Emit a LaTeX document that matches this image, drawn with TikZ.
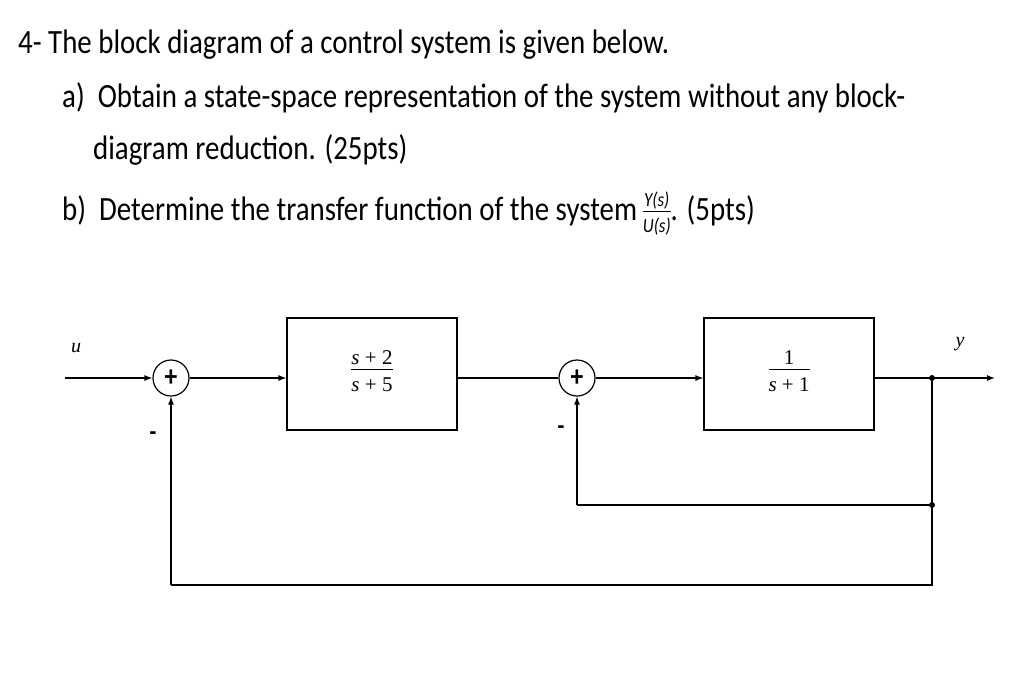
\documentclass[tikz,border=0pt]{standalone}
\usepackage{fontspec}
\setmainfont{Carlito}[FakeStretch=0.85]
\newfontfamily\serifx{Liberation Serif}
\usetikzlibrary{arrows.meta}
\newcommand{\fr}[2]{\begin{tabular}{@{}c@{}}#1\\[-2pt]\hline\rule{0pt}{1.05em}#2\end{tabular}}
\begin{document}
\begin{tikzpicture}[x=1pt,y=-1pt,
  blk/.style={draw,line width=1.2pt,minimum width=170pt,minimum height=112pt,inner sep=0pt,font=\serifx\fontsize{21}{22}\selectfont},
  sumc/.style={draw,circle,line width=1.2pt,minimum size=36pt,inner sep=0pt,font=\bfseries\fontsize{30}{30}\selectfont},
  ln/.style={line width=1.2pt},
  ar/.style={line width=1.2pt,-{Latex[length=8pt,width=6pt]}},
  dot/.style={circle,fill,inner sep=0pt,minimum size=6pt},
  txt/.style={anchor=west,font=\fontsize{34}{34}\selectfont,inner sep=0pt}]
\useasboundingbox (0,0) rectangle (1024,683);
\node[txt] (t1) at (18,45) {4- The block diagram of a control system is given below.};
\node[txt] (t2) at (62,98) {a)\ \ Obtain a state-space representation of the system without any block-};
\node[txt] (t3) at (93,150) {diagram reduction. (25pts)};
\node[txt] (t4) at (62,215) {b)\ \ Determine the transfer function of the system\,{\fontsize{20}{20}\selectfont\itshape\fr{Y(s)}{U(s)}}. (5pts)};
\coordinate (in) at (65,378);
\node[font=\serifx\itshape\fontsize{20}{20}\selectfont] (u) at (76,348) {u};
\node[sumc] (s1) at (171,378) {+};
\node[blk] (b1) at (372,374) {\fr{\textit{s} + 2}{\textit{s} + 5}};
\node[sumc] (s2) at (577,378) {+};
\node[blk] (b2) at (789,374) {\fr{1}{\textit{s} + 1}};
\node[dot] (d1) at (932,378) {};
\node[dot] (d2) at (932,505) {};
\coordinate (out) at (995,378);
\coordinate (c1) at (577,505);
\coordinate (c2) at (932,585);
\coordinate (c3) at (171,585);
\node[font=\serifx\itshape\fontsize{20}{20}\selectfont] (y) at (960,344) {y};
\node[font=\bfseries\fontsize{26}{26}\selectfont] (m1) at (153,436) {-};
\node[font=\bfseries\fontsize{26}{26}\selectfont] (m2) at (561,430) {-};
\draw[ar] (in) -- (s1);
\draw[ar] (s1) -- (b1.west|-s1);
\draw[ln] (b1.east|-s2) -- (s2);
\draw[ar] (s2) -- (b2.west|-s2);
\draw[ar] (b2.east|-d1) -- (out);
\draw[ln] (d1) -- (d2) -- (c2) -- (c3);
\draw[ar] (c3) -- (s1);
\draw[ln] (d2) -- (c1);
\draw[ar] (c1) -- (s2);
\end{tikzpicture}
\end{document}
